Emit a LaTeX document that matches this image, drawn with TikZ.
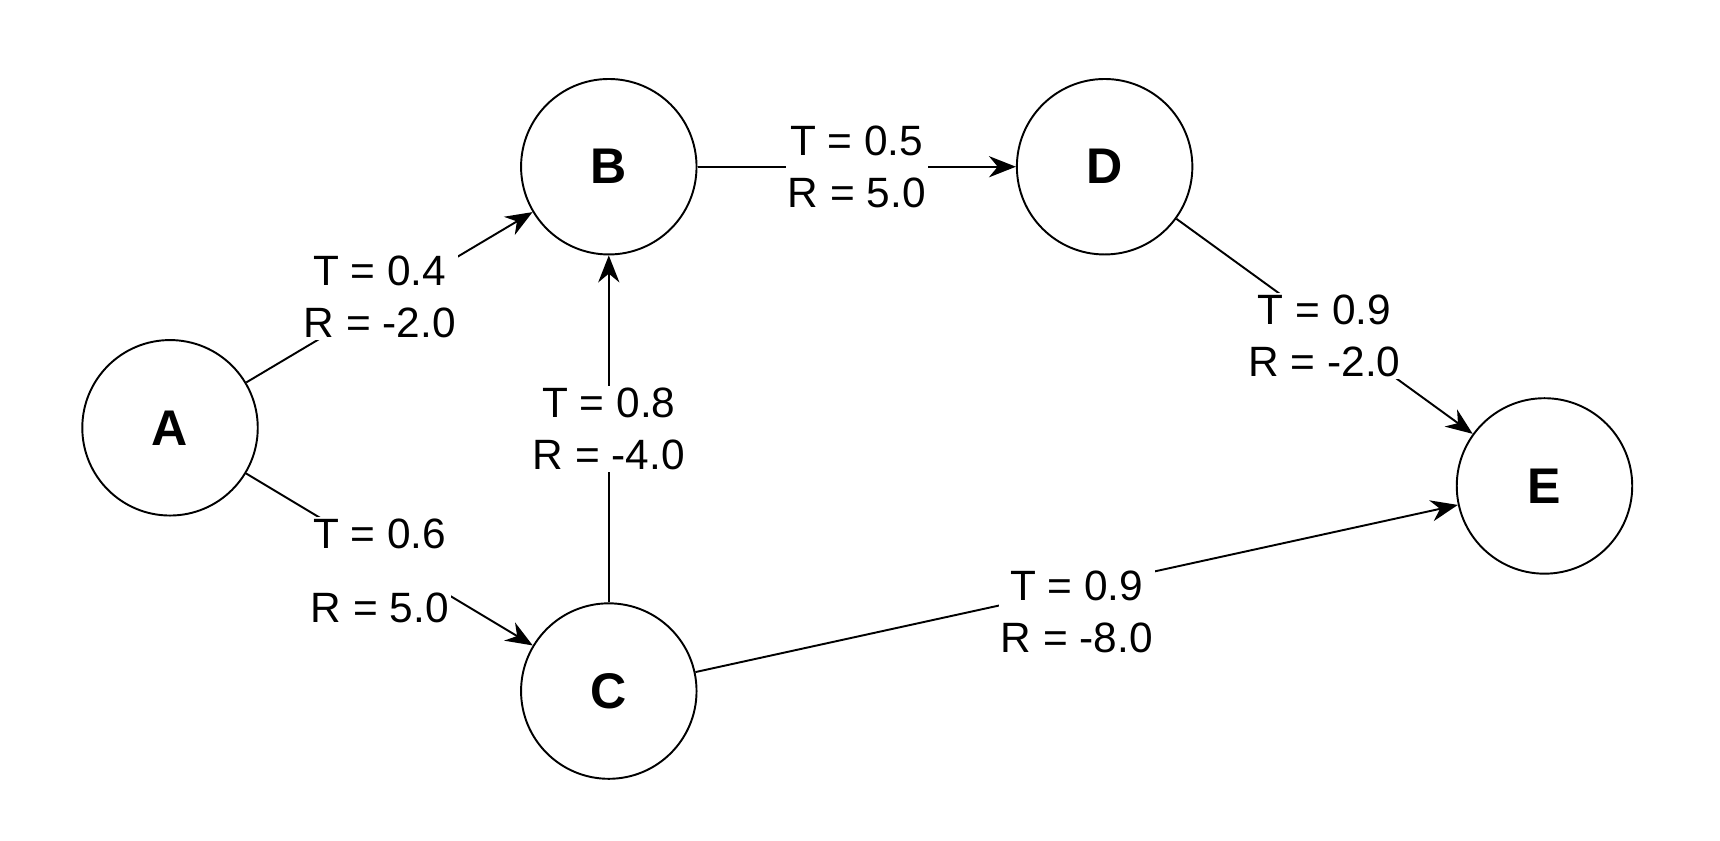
\documentclass[tikz,border=0pt]{standalone}
\usepackage{fontspec}
\setmainfont{Liberation Sans}
\usetikzlibrary{arrows.meta}
\begin{document}
\begin{tikzpicture}[x=0.02cm,y=-0.02cm,
  st/.style={circle,draw,line width=1pt,minimum size=3.2cm,inner sep=0pt,font=\fontsize{26}{30}\selectfont\bfseries},
  lab/.style={fill=white,inner sep=1pt,align=center,font=\fontsize{22}{27}\selectfont},
  ed/.style={line width=1pt,-{Stealth[length=14pt,width=11pt]}}]
\useasboundingbox (0,0) rectangle (1568,766);
\node[st] (A) at (155,390) {A};
\node[st] (B) at (555,152) {B};
\node[st] (C) at (555,630) {C};
\node[st] (D) at (1007,152) {D};
\node[st] (E) at (1408,443) {E};
\draw[ed] (A) -- (B) node[lab,pos=0.5,xshift=-5pt] {T = 0.4\\R = -2.0};
\draw[ed] (A) -- (C) node[lab,pos=0.5,xshift=-5pt,yshift=-6pt,font=\fontsize{22}{38}\selectfont] {T = 0.6\\R = 5.0};
\draw[ed] (B) -- (D) node[lab,pos=0.5] {T = 0.5\\R = 5.0};
\draw[ed] (C) -- (B) node[lab,pos=0.5] {T = 0.8\\R = -4.0};
\draw[ed] (D) -- (E) node[lab,pos=0.5,yshift=-5pt] {T = 0.9\\R = -2.0};
\draw[ed] (C) -- (E) node[lab,pos=0.5,yshift=-12pt] {T = 0.9\\R = -8.0};
\end{tikzpicture}
\end{document}
